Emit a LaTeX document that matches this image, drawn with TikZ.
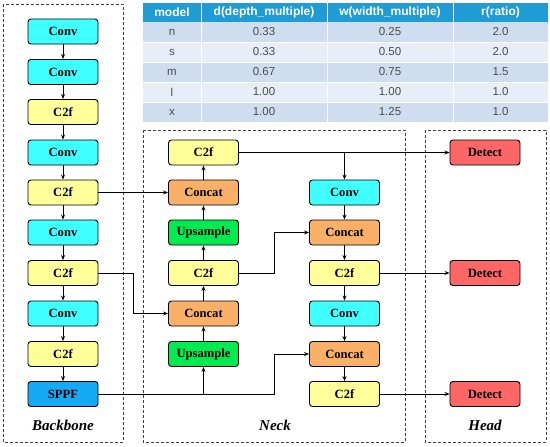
\documentclass[tikz,border=0pt]{standalone}
\usepackage{fontspec}
\usetikzlibrary{arrows.meta}
\setmainfont{Liberation Serif}
\newfontfamily\tabhead{Liberation Sans}

\definecolor{convc}{RGB}{64,255,255}
\definecolor{c2fc}{RGB}{255,255,153}
\definecolor{concatc}{RGB}{250,176,102}
\definecolor{upc}{RGB}{0,235,80}
\definecolor{sppfc}{RGB}{22,170,245}
\definecolor{detc}{RGB}{255,102,102}
\definecolor{hdblue}{RGB}{31,155,214}
\definecolor{rowdark}{RGB}{207,221,240}
\definecolor{rowlight}{RGB}{232,238,248}

\tikzset{
  blk/.style={draw, rounded corners=3pt, line width=0.9pt, minimum width=70pt,
    minimum height=25pt, inner sep=0pt, font=\fontsize{12.6}{14}\selectfont\bfseries},
  dbox/.style={draw=black!75, line width=1pt, dash pattern=on 3pt off 2pt},
  part/.style={font=\fontsize{15}{18}\selectfont\bfseries\itshape},
  tcell/.style={font=\fontsize{11.5}{14}\selectfont\tabhead, text=black!70, inner sep=0pt},
  thead/.style={font=\fontsize{12}{14}\selectfont\tabhead\bfseries, text=white, inner sep=0pt},
  conn/.style={line width=0.8pt, -{Stealth[length=5pt,width=4pt]}}
}

\begin{document}
\begin{tikzpicture}[x=1pt,y=-1pt]
  \useasboundingbox (0,0) rectangle (550,447);
  % table
  \fill[hdblue] (143,3) rectangle (548,22);
  \foreach \i/\c in {0/rowdark,1/rowlight,2/rowdark,3/rowlight,4/rowdark} {
    \fill[\c] (143,{22+20*\i}) rectangle (548,{42+20*\i});
  }
  \foreach \x in {201,327,453} {
    \draw[white, line width=1pt] (\x,3) -- (\x,122);
  }
  \foreach \i in {1,...,4} {
    \draw[white, line width=0.5pt] (143,{22+20*\i}) -- (548,{22+20*\i});
  }
  \node[thead] (hm) at (172,12.5) {model};
  \node[thead] (hd) at (264,12.5) {d(depth\_multiple)};
  \node[thead] (hw) at (390,12.5) {w(width\_multiple)};
  \node[thead] (hr) at (500.5,12.5) {r(ratio)};
  \foreach \m/\d/\w/\r [count=\i] in {n/0.33/0.25/2.0, s/0.33/0.50/2.0,
      m/0.67/0.75/1.5, l/1.00/1.00/1.0, x/1.00/1.25/1.0} {
    \node[tcell] (m\i) at (172,{12+20*\i}) {\m};
    \node[tcell] (d\i) at (264,{12+20*\i}) {\d};
    \node[tcell] (w\i) at (390,{12+20*\i}) {\w};
    \node[tcell] (r\i) at (500.5,{12+20*\i}) {\r};
  }

  % dashed frames
  \draw[dbox] (3,4) rectangle (123,442);
  \draw[dbox] (143,130) rectangle (405,442);
  \draw[dbox] (425,130) rectangle (546,442);
  \node[part] (lbb) at (63,425) {Backbone};
  \node[part] (lnk) at (275,425) {Neck};
  \node[part] (lhd) at (485,425) {Head};

  % backbone
  \node[blk, fill=convc] (b1) at (63,31.5) {Conv};
  \node[blk, fill=convc] (b2) at (63,72) {Conv};
  \node[blk, fill=c2fc] (b3) at (63,112) {C2f};
  \node[blk, fill=convc] (b4) at (63,152.5) {Conv};
  \node[blk, fill=c2fc] (b5) at (63,192.5) {C2f};
  \node[blk, fill=convc] (b6) at (63,232.5) {Conv};
  \node[blk, fill=c2fc] (b7) at (63,273) {C2f};
  \node[blk, fill=convc] (b8) at (63,313.5) {Conv};
  \node[blk, fill=c2fc] (b9) at (63,354) {C2f};
  \node[blk, fill=sppfc] (b10) at (63,394) {SPPF};
  \foreach \a/\b in {b1/b2,b2/b3,b3/b4,b4/b5,b5/b6,b6/b7,b7/b8,b8/b9,b9/b10} {
    \draw[conn] (\a.south) -- (\b.north);
  }

  % neck, left column
  \node[blk, fill=c2fc] (nl1) at (203.5,152.5) {C2f};
  \node[blk, fill=concatc] (nl2) at (203.5,192.5) {Concat};
  \node[blk, fill=upc] (nl3) at (203.5,232.5) {Upsample};
  \node[blk, fill=c2fc] (nl4) at (203.5,273) {C2f};
  \node[blk, fill=concatc] (nl5) at (203.5,313.5) {Concat};
  \node[blk, fill=upc] (nl6) at (203.5,354) {Upsample};
  \foreach \a/\b in {nl6/nl5,nl5/nl4,nl4/nl3,nl3/nl2,nl2/nl1} {
    \draw[conn] (\a.north) -- (\b.south);
  }

  % neck, right column
  \node[blk, fill=convc] (nr1) at (344.5,192.5) {Conv};
  \node[blk, fill=concatc] (nr2) at (344.5,232.5) {Concat};
  \node[blk, fill=c2fc] (nr3) at (344.5,273) {C2f};
  \node[blk, fill=convc] (nr4) at (344.5,313.5) {Conv};
  \node[blk, fill=concatc] (nr5) at (344.5,354) {Concat};
  \node[blk, fill=c2fc] (nr6) at (344.5,394) {C2f};
  \foreach \a/\b in {nr1/nr2,nr2/nr3,nr3/nr4,nr4/nr5,nr5/nr6} {
    \draw[conn] (\a.south) -- (\b.north);
  }

  % head
  \node[blk, fill=detc] (h1) at (485,152.5) {Detect};
  \node[blk, fill=detc] (h2) at (485,273) {Detect};
  \node[blk, fill=detc] (h3) at (485,394) {Detect};

  % cross links
  \draw[conn] (b5.east) -- (nl2.west);
  \draw[conn] (b7.east) -- ++(35,0) |- (nl5.west);
  \draw[conn] (b10.east) -- ++(176,0) |- (nr5.west);
  \draw[conn] (nl6.south |- b10.east) -- (nl6.south);
  \draw[conn] (nl4.east) -- ++(35,0) |- (nr2.west);
  \draw[conn] (nl1.east) -- (h1.west);
  \draw[conn] (nr1.north |- nl1.east) -- (nr1.north);
  \draw[conn] (nr3.east) -- (h2.west);
  \draw[conn] (nr6.east) -- (h3.west);
\end{tikzpicture}
\end{document}
